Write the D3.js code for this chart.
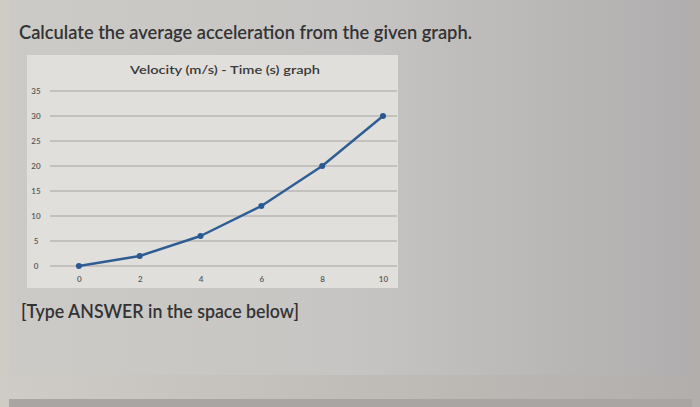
<!DOCTYPE html>
<html>
<head>
<meta charset="utf-8">
<script src="https://cdn.jsdelivr.net/npm/d3@7"></script>
<style>
  body { margin: 0; background: #c4c3c1; }
  svg { display: block; }
  text { font-family: Lato, "Open Sans", sans-serif; }
</style>
</head>
<body>
<div id="chart_div"></div>
<script>
// data
var times = [0, 2, 4, 6, 8, 10];
var velocities = [0, 2, 6, 12, 20, 30];
var yTicks = [0, 5, 10, 15, 20, 25, 30, 35];
var xTicks = [0, 2, 4, 6, 8, 10];

var headingText = "Calculate the average acceleration from the given graph.";
var chartTitle = "Velocity (m/s) - Time (s) graph";
var answerText = "[Type ANSWER in the space below]";

var all_width = 700, all_height = 407;

var svg = d3.select("#chart_div")
  .append("svg")
    .attr("width", all_width)
    .attr("height", all_height);

// page background, a photo of a screen so a soft grey gradient
var defs = svg.append("defs");
var bg = defs.append("linearGradient").attr("id", "bg");
bg.append("stop").attr("offset", "0%").attr("stop-color", "#cbcac6");
bg.append("stop").attr("offset", "50%").attr("stop-color", "#c7c5c3");
bg.append("stop").attr("offset", "100%").attr("stop-color", "#b0aeae");
var bg2 = defs.append("linearGradient").attr("id", "bg2");
bg2.append("stop").attr("offset", "0%").attr("stop-color", "#cfccc6");
bg2.append("stop").attr("offset", "100%").attr("stop-color", "#b2aeac");

svg.append("rect").attr("width", all_width).attr("height", all_height).attr("fill", "url(#bg2)");
svg.append("rect")
  .attr("x", 9).attr("y", 0).attr("width", 683).attr("height", 375)
  .attr("fill", "url(#bg)");
svg.append("rect")
  .attr("x", 9).attr("y", 399).attr("width", 683).attr("height", 8)
  .attr("fill", "#a9a5a2");

// heading
svg.append("text")
  .attr("x", 19).attr("y", 39)
  .attr("font-size", "19px")
  .attr("font-weight", 600)
  .attr("textLength", 453).attr("lengthAdjust", "spacingAndGlyphs")
  .attr("fill", "#333335")
  .text(headingText);

// chart panel
var panel = {x: 27, y: 55, w: 371, h: 233};
svg.append("rect")
  .attr("x", panel.x).attr("y", panel.y)
  .attr("width", panel.w).attr("height", panel.h)
  .attr("fill", "#e0dfdb");

svg.append("text")
  .attr("x", 225).attr("y", 74)
  .attr("text-anchor", "middle")
  .attr("font-size", "12px")
  .attr("font-weight", 600)
  .attr("textLength", 190).attr("lengthAdjust", "spacingAndGlyphs")
  .attr("fill", "#3a3a3a")
  .text(chartTitle);

var margin = {top: 91, left: 50, right: 397, bottom: 266};

var x = d3.scaleLinear()
  .domain([-0.95, 10])
  .range([margin.left, 383]);

var y = d3.scaleLinear()
  .domain([0, 35])
  .range([margin.bottom, margin.top]);

// grid lines
svg.append("g")
  .selectAll("line")
  .data(yTicks)
  .enter()
  .append("line")
    .attr("x1", margin.left)
    .attr("x2", margin.right)
    .attr("y1", function(d) { return y(d); })
    .attr("y2", function(d) { return y(d); })
    .attr("stroke", "#b8b7b4")
    .attr("stroke-width", 1.3);

// y axis labels
var yAxis = svg.append("g")
  .attr("transform", "translate(40,0)")
  .call(d3.axisLeft(y).tickValues(yTicks).tickSize(0).tickPadding(0));
yAxis.select(".domain").remove();
yAxis.selectAll("text")
  .attr("font-family", "Lato, sans-serif")
  .attr("font-size", "8px")
  .attr("font-weight", 600)
  .attr("fill", "#555")
  .attr("text-anchor", "middle")
  .attr("x", -4);

// x axis labels
var xAxis = svg.append("g")
  .attr("transform", "translate(0,276)")
  .call(d3.axisBottom(x).tickValues(xTicks).tickSize(0).tickPadding(0));
xAxis.select(".domain").remove();
xAxis.selectAll("text")
  .attr("font-family", "Lato, sans-serif")
  .attr("font-size", "8px")
  .attr("font-weight", 600)
  .attr("fill", "#555");

// line and markers
var pts = times.map(function(t, i) { return {t: t, v: velocities[i]}; });

svg.append("path")
  .datum(pts)
  .attr("fill", "none")
  .attr("stroke", "#2e5d93")
  .attr("stroke-width", 2.4)
  .attr("stroke-linejoin", "round")
  .attr("d", d3.line()
    .x(function(d) { return x(d.t); })
    .y(function(d) { return y(d.v); }));

svg.append("g")
  .selectAll("circle")
  .data(pts)
  .enter()
  .append("circle")
    .attr("cx", function(d) { return x(d.t); })
    .attr("cy", function(d) { return y(d.v); })
    .attr("r", 3)
    .attr("fill", "#2a5890");

// answer prompt
svg.append("text")
  .attr("x", 21).attr("y", 318)
  .attr("font-size", "19px")
  .attr("font-weight", 600)
  .attr("textLength", 278).attr("lengthAdjust", "spacingAndGlyphs")
  .attr("fill", "#333335")
  .text(answerText);
</script>
</body>
</html>
